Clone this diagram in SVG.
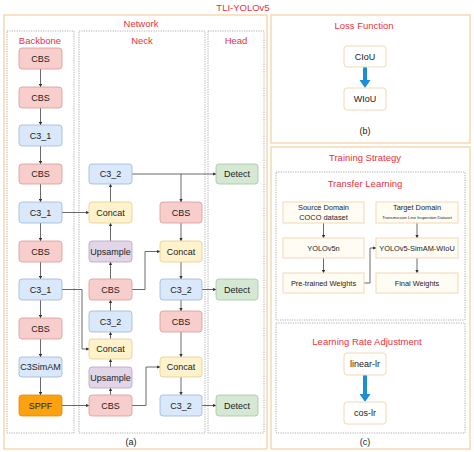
<svg xmlns="http://www.w3.org/2000/svg" width="474" height="452" viewBox="0 0 474 452">
<defs>
<marker id="ah" viewBox="0 0 6 6" refX="5.5" refY="3" markerWidth="4" markerHeight="4" orient="auto"><path d="M0,0 L6,3 L0,6 z" fill="#333"/></marker>
<style>
text{font-family:"Liberation Sans",Arial,sans-serif;font-size:9px;fill:#222;text-anchor:middle;dominant-baseline:central}
.lab{fill:#e8323c;font-size:9.5px}
.sm{font-size:7.4px}
.panel{fill:#fff;stroke:#f5d3a6;stroke-width:1.3}
.dash{fill:none;stroke:#9a9a9a;stroke-width:0.8;stroke-dasharray:1.2,1.2}
.cbs{fill:#f8cecc;stroke:#d99a96;stroke-width:0.8}
.c3{fill:#dae8fc;stroke:#9db5d8;stroke-width:0.8}
.cat{fill:#fff2cc;stroke:#e3cd8a;stroke-width:0.8}
.up{fill:#e1d5e7;stroke:#b8a2c4;stroke-width:0.8}
.det{fill:#d5e8d4;stroke:#9ec99b;stroke-width:0.8}
.sppf{fill:#fea10f;stroke:#d98a0c;stroke-width:0.8}
.wb{fill:#fff;stroke:#f3d8b4;stroke-width:1}
.tb{fill:#fffcf4;stroke:#f3d8b4;stroke-width:1}
.ln{fill:none;stroke:#444;stroke-width:0.8;marker-end:url(#ah)}
.big{fill:none;stroke:#1b8fd6;stroke-width:4}
</style>
</defs>
<!-- panels -->
<rect class="panel" x="4" y="15" width="263" height="434"/>
<rect class="panel" x="271" y="15" width="199" height="128"/>
<rect class="panel" x="271" y="147" width="199" height="302"/>
<rect class="dash" x="7" y="31" width="67" height="402"/>
<rect class="dash" x="79" y="31" width="126" height="402"/>
<rect class="dash" x="208" y="31" width="56" height="402"/>
<rect class="dash" x="276" y="172" width="189" height="148"/>
<rect class="dash" x="276" y="323" width="189" height="110"/>
<text class="lab" x="243" y="7">TLI-YOLOv5</text>
<text class="lab" x="141" y="23">Network</text>
<text class="lab" x="40" y="40">Backbone</text>
<text class="lab" x="142" y="40">Neck</text>
<text class="lab" x="236" y="40">Head</text>
<text x="131" y="442">(a)</text>
<text class="lab" x="364" y="25">Loss Function</text>
<text x="365" y="131">(b)</text>
<text class="lab" x="365" y="157">Training Strategy</text>
<text class="lab" x="365" y="183">Transfer Learning</text>
<text class="lab" x="367" y="341">Learning Rate Adjustment</text>
<text x="365" y="442">(c)</text>
<!-- connectors -->
<g id="connectors">
<path class="ln" d="M40.5,69 V87"/>
<path class="ln" d="M40.5,108 V125"/>
<path class="ln" d="M40.5,146 V164"/>
<path class="ln" d="M40.5,184 V202"/>
<path class="ln" d="M40.5,223 V241"/>
<path class="ln" d="M40.5,262 V279"/>
<path class="ln" d="M40.5,300 V318"/>
<path class="ln" d="M40.5,339 V357"/>
<path class="ln" d="M40.5,377 V395"/>
<path class="ln" d="M62,212.5 H89"/>
<path class="ln" d="M62,289.5 H82 V349 H89"/>
<path class="ln" d="M62,405.5 H89"/>
<path class="ln" d="M110.5,395 V388"/>
<path class="ln" d="M110.5,367 V359"/>
<path class="ln" d="M110.5,339 V332"/>
<path class="ln" d="M110.5,311 V300"/>
<path class="ln" d="M110.5,279 V262"/>
<path class="ln" d="M110.5,241 V223"/>
<path class="ln" d="M110.5,202 V184"/>
<path class="ln" d="M132,174 H216"/>
<path class="ln" d="M181,174 V202"/>
<path class="ln" d="M181,223 V241"/>
<path class="ln" d="M132,289.5 H145 V251.5 H160"/>
<path class="ln" d="M181,262 V279"/>
<path class="ln" d="M202,289.5 H216"/>
<path class="ln" d="M181,300 V311"/>
<path class="ln" d="M181,332 V357"/>
<path class="ln" d="M132,405.5 H146 V367 H160"/>
<path class="ln" d="M181,377 V395"/>
<path class="ln" d="M202,405.5 H216"/>
<path class="ln" d="M323.5,223 V238"/>
<path class="ln" d="M323.5,258 V273"/>
<path class="ln" d="M417,223 V238"/>
<path class="ln" d="M417,258 V273"/>
<path class="ln" d="M364,283 H370 V248 H376"/>
<path class="big" d="M365,67 V81"/>
<path d="M359.5,80 H370.5 L365,88 z" fill="#1b8fd6"/>
<path class="big" d="M365,375 V395"/>
<path d="M359.5,394 H370.5 L365,402 z" fill="#1b8fd6"/>
</g>
<!-- backbone -->
<g id="bb-cbs1"><rect class="cbs" x="19" y="48" width="43" height="21" rx="3"/><text x="40.5" y="58.5">CBS</text></g>
<g id="bb-cbs2"><rect class="cbs" x="19" y="87" width="43" height="21" rx="3"/><text x="40.5" y="97.5">CBS</text></g>
<g id="bb-c31a"><rect class="c3" x="19" y="125" width="43" height="21" rx="3"/><text x="40.5" y="135.5">C3_1</text></g>
<g id="bb-cbs3"><rect class="cbs" x="19" y="164" width="43" height="20" rx="3"/><text x="40.5" y="174">CBS</text></g>
<g id="bb-c31b"><rect class="c3" x="19" y="202" width="43" height="21" rx="3"/><text x="40.5" y="212.5">C3_1</text></g>
<g id="bb-cbs4"><rect class="cbs" x="19" y="241" width="43" height="21" rx="3"/><text x="40.5" y="251.5">CBS</text></g>
<g id="bb-c31c"><rect class="c3" x="19" y="279" width="43" height="21" rx="3"/><text x="40.5" y="289.5">C3_1</text></g>
<g id="bb-cbs5"><rect class="cbs" x="19" y="318" width="43" height="21" rx="3"/><text x="40.5" y="328.5">CBS</text></g>
<g id="bb-simam"><rect class="c3" x="19" y="357" width="43" height="20" rx="3"/><text x="40.5" y="367">C3SimAM</text></g>
<g id="bb-sppf"><rect class="sppf" x="19" y="395" width="43" height="21" rx="3"/><text x="40.5" y="405.5">SPPF</text></g>
<!-- neck col 1 -->
<g id="n1-c32"><rect class="c3" x="89" y="164" width="43" height="20" rx="3"/><text x="110.5" y="174">C3_2</text></g>
<g id="n1-concat1"><rect class="cat" x="89" y="202" width="43" height="21" rx="3"/><text x="110.5" y="212.5">Concat</text></g>
<g id="n1-up1"><rect class="up" x="89" y="241" width="43" height="21" rx="3"/><text x="110.5" y="251.5">Upsample</text></g>
<g id="n1-cbs1"><rect class="cbs" x="89" y="279" width="43" height="21" rx="3"/><text x="110.5" y="289.5">CBS</text></g>
<g id="n1-c32b"><rect class="c3" x="89" y="311" width="43" height="21" rx="3"/><text x="110.5" y="321.5">C3_2</text></g>
<g id="n1-concat2"><rect class="cat" x="89" y="339" width="43" height="20" rx="3"/><text x="110.5" y="349">Concat</text></g>
<g id="n1-up2"><rect class="up" x="89" y="367" width="43" height="21" rx="3"/><text x="110.5" y="377.5">Upsample</text></g>
<g id="n1-cbs2"><rect class="cbs" x="89" y="395" width="43" height="21" rx="3"/><text x="110.5" y="405.5">CBS</text></g>
<!-- neck col 2 -->
<g id="n2-cbs1"><rect class="cbs" x="160" y="202" width="42" height="21" rx="3"/><text x="181" y="212.5">CBS</text></g>
<g id="n2-concat1"><rect class="cat" x="160" y="241" width="42" height="21" rx="3"/><text x="181" y="251.5">Concat</text></g>
<g id="n2-c32a"><rect class="c3" x="160" y="279" width="42" height="21" rx="3"/><text x="181" y="289.5">C3_2</text></g>
<g id="n2-cbs2"><rect class="cbs" x="160" y="311" width="42" height="21" rx="3"/><text x="181" y="321.5">CBS</text></g>
<g id="n2-concat2"><rect class="cat" x="160" y="357" width="42" height="20" rx="3"/><text x="181" y="367">Concat</text></g>
<g id="n2-c32b"><rect class="c3" x="160" y="395" width="42" height="21" rx="3"/><text x="181" y="405.5">C3_2</text></g>
<!-- head -->
<g id="h-det1"><rect class="det" x="216" y="164" width="42" height="20" rx="3"/><text x="237" y="174">Detect</text></g>
<g id="h-det2"><rect class="det" x="216" y="279" width="42" height="21" rx="3"/><text x="237" y="289.5">Detect</text></g>
<g id="h-det3"><rect class="det" x="216" y="395" width="42" height="21" rx="3"/><text x="237" y="405.5">Detect</text></g>
<!-- loss -->
<g id="ciou"><rect class="wb" x="344" y="46" width="42" height="21" rx="3"/><text x="365" y="56.5">CIoU</text></g>
<g id="wiou"><rect class="wb" x="344" y="88" width="42" height="22" rx="3"/><text x="365" y="99">WIoU</text></g>
<!-- transfer learning -->
<g id="src"><rect class="tb" x="283" y="202" width="81" height="21"/><text class="sm" x="323.5" y="207.5">Source Domain</text><text class="sm" x="323.5" y="217.5">COCO dataset</text></g>
<g id="tgt"><rect class="tb" x="376" y="202" width="82" height="21"/><text class="sm" x="417" y="207.5">Target Domain</text><text x="417" y="217.5" style="font-size:4.2px">Transmission Line Inspection Dataset</text></g>
<g id="yolov5n"><rect class="tb" x="283" y="238" width="81" height="20"/><text class="sm" x="323.5" y="248">YOLOv5n</text></g>
<g id="yolosim"><rect class="tb" x="376" y="238" width="82" height="20"/><text class="sm" x="417" y="248">YOLOv5-SimAM-WIoU</text></g>
<g id="pre"><rect class="tb" x="283" y="273" width="81" height="20"/><text class="sm" x="323.5" y="283">Pre-trained Weights</text></g>
<g id="final"><rect class="tb" x="376" y="273" width="82" height="20"/><text class="sm" x="417" y="283">Final Weights</text></g>
<!-- lr -->
<g id="linear"><rect class="wb" x="344" y="353" width="42" height="22" rx="3"/><text x="365" y="364">linear-lr</text></g>
<g id="cos"><rect class="wb" x="344" y="402" width="42" height="22" rx="3"/><text x="365" y="413">cos-lr</text></g>
</svg>
